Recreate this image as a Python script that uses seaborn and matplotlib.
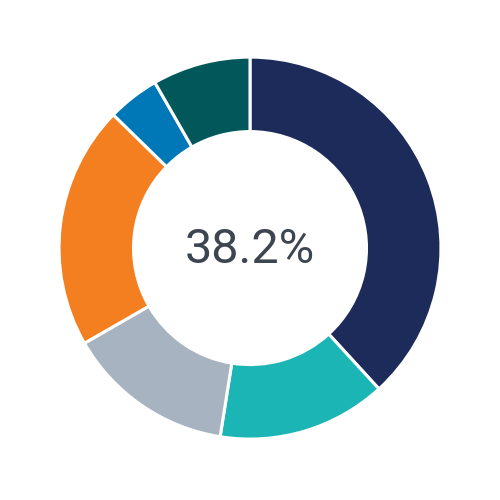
import matplotlib
matplotlib.use("Agg")
import matplotlib.pyplot as plt
import seaborn as sns

# Slice shares (percent), clockwise from the top
segments = ["A", "B", "C", "D", "E", "F"]
shares = [38.2, 14.3, 14.2, 20.6, 4.4, 8.3]
colors = ["#1d2b5b", "#1cb5b5", "#a8b3c1", "#f47f20", "#0077b6", "#01575a"]
center_label = "38.2%"

sns.set_theme(style="white")
plt.rcParams['font.family'] = ['Roboto', 'DejaVu Sans']

fig = plt.figure(figsize=(5, 5), dpi=100)
ax = fig.add_axes([0, 0, 1, 1])

palette = sns.color_palette(colors)
ax.pie(shares, colors=palette, startangle=90, counterclock=False,
       radius=1.0, center=(0, 0.01),
       wedgeprops=dict(width=0.39, edgecolor="white", linewidth=2.2))

ax.text(0, 0.0, center_label, ha="center", va="center",
        fontsize=35, color="#3d4550")

ax.set_xlim(-1.309, 1.309)
ax.set_ylim(-1.309, 1.309)
ax.set_aspect("equal")
ax.axis("off")

fig.savefig("out.png", dpi=100, facecolor="white")
